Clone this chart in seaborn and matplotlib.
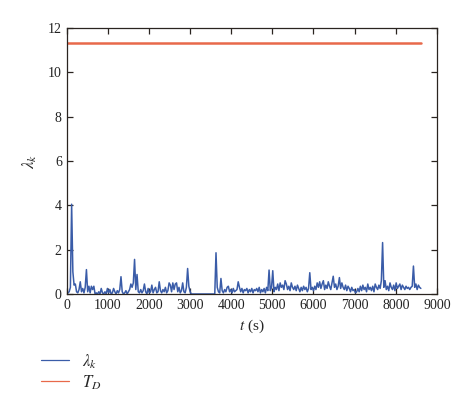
import numpy as np
import pandas as pd
import matplotlib
matplotlib.use("Agg")
import matplotlib.pyplot as plt
from matplotlib.lines import Line2D
import seaborn as sns

# === Data (one sample every 30 s) ===
sample_period = 30
lam_k = [
    # 0 - 690 s
    0.0, 0.05, 0.1, 0.3, 4.05, 1.0, 0.4, 0.45, 0.1, 0.05,
    0.2, 0.55, 0.1, 0.25, 0.05, 0.3, 1.1, 0.1, 0.35, 0.05,
    0.35, 0.2, 0.35, 0.0,
    # 720 - 1500 s
    0.05, 0.0, 0.1, 0.0, 0.25, 0.05, 0.0, 0.1, 0.0, 0.25,
    0.05, 0.2, 0.0, 0.05, 0.25, 0.1, 0.0, 0.15, 0.05, 0.2,
    0.78, 0.1, 0.0, 0.05, 0.15, 0.0, 0.1,
    # 1530 - 2100 s
    0.2, 0.45, 0.3, 0.5, 1.56, 0.2, 0.88, 0.1, 0.05, 0.2,
    0.05, 0.15, 0.45, 0.1, 0.0, 0.25, 0.05, 0.1, 0.4, 0.05,
    # 2130 - 3000 s
    0.2, 0.3, 0.05, 0.1, 0.55, 0.15, 0.05, 0.2, 0.1, 0.3,
    0.05, 0.15, 0.5, 0.4, 0.1, 0.5, 0.2, 0.45, 0.5, 0.1,
    0.3, 0.05, 0.15, 0.5, 0.1, 0.05, 0.3, 1.15, 0.35, 0.1,
    # 3030 - 3600 s (quiet)
    0.0, 0.0, 0.0, 0.0, 0.0, 0.0, 0.0, 0.0, 0.0, 0.0,
    0.0, 0.0, 0.0, 0.0, 0.0, 0.0, 0.0, 0.0, 0.0, 0.0,
    # 3630 - 4200 s
    1.86, 0.3, 0.1, 0.05, 0.7, 0.15, 0.05, 0.2, 0.1, 0.3,
    0.35, 0.1, 0.2, 0.05, 0.25, 0.1, 0.15, 0.2, 0.55, 0.3,
    # 4230 - 4890 s
    0.1, 0.25, 0.05, 0.2, 0.15, 0.25, 0.05, 0.2, 0.1, 0.25,
    0.05, 0.2, 0.15, 0.25, 0.1, 0.3, 0.05, 0.2, 0.1, 0.25,
    0.05, 0.3, 0.15,
    # 4920 - 5970 s
    1.08, 0.15, 0.3, 1.05, 0.1, 0.3, 0.2, 0.45, 0.15, 0.5,
    0.3, 0.4, 0.2, 0.6, 0.45, 0.2, 0.35, 0.15, 0.5, 0.3,
    0.2, 0.35, 0.15, 0.4, 0.25, 0.1, 0.3, 0.15, 0.35, 0.2,
    0.3, 0.1, 0.25, 0.96, 0.2, 0.3,
    # 6000 - 6900 s
    0.15, 0.35, 0.2, 0.5, 0.3, 0.55, 0.25, 0.45, 0.6, 0.2,
    0.4, 0.25, 0.55, 0.35, 0.2, 0.5, 0.8, 0.3, 0.45, 0.2,
    0.35, 0.74, 0.25, 0.5, 0.3, 0.2, 0.4, 0.15, 0.35, 0.25,
    0.1,
    # 6930 - 7650 s
    0.3, 0.15, 0.2, 0.05, 0.1, 0.25, 0.1, 0.35, 0.15, 0.4,
    0.2, 0.3, 0.1, 0.45, 0.2, 0.3, 0.15, 0.35, 0.1, 0.45,
    0.3, 0.2, 0.4, 0.25, 0.6,
    # 7680 - 8610 s
    2.32, 0.3, 0.6, 0.2, 0.35, 0.15, 0.5, 0.3, 0.2, 0.4,
    0.15, 0.5, 0.25, 0.35, 0.45, 0.2, 0.4, 0.3, 0.2, 0.35,
    0.25, 0.3, 0.2, 0.3, 0.35, 1.26, 0.3, 0.45, 0.2, 0.4,
    0.3, 0.25,
]
threshold_TD = 11.33
legend_labels = [r"$\lambda_k$", r"$T_D$"]

t = np.arange(len(lam_k)) * sample_period
df = pd.DataFrame({"t": t, "lam": lam_k, "TD": threshold_TD})

# === Style ===
sns.set_style("ticks")
plt.rcParams.update({
    "font.family": ["Liberation Serif", "DejaVu Serif"],
    "mathtext.fontset": "stix",
    "xtick.direction": "in",
    "ytick.direction": "in",
    "xtick.top": True,
    "ytick.right": True,
    "axes.linewidth": 0.9,
    "axes.edgecolor": "#2a2420",
})

blue = "#3a5ca8"
red = "#e8694a"

fig = plt.figure(figsize=(4.74, 4.09), dpi=100)
ax = fig.add_axes([0.1407, 0.2812, 0.781, 0.6503])

sns.lineplot(data=df, x="t", y="lam", ax=ax, color=blue, linewidth=1.1,
             legend=False)
sns.lineplot(data=df, x="t", y="TD", ax=ax, color=red, linewidth=1.8,
             legend=False)

ax.set_xlim(0, 9000)
ax.set_ylim(0, 12)
ax.set_xticks(range(0, 9001, 1000))
ax.set_yticks(range(0, 13, 2))
ax.tick_params(labelsize=10, length=4, width=0.9, colors="#2a2420",
               labelcolor="#222222")

ax.set_xlabel(r"$t$ (s)", fontsize=11, labelpad=4)
ax.set_ylabel(r"$\lambda_k$", fontsize=12, labelpad=6)

# thin legend handles like the reference
handles = [Line2D([], [], color=blue, linewidth=0.9),
           Line2D([], [], color=red, linewidth=0.9)]
fig.legend(handles, legend_labels, loc="upper left", bbox_to_anchor=(0.072, 0.155),
           frameon=False, fontsize=12, handlelength=1.7, handletextpad=0.8,
           labelspacing=0.15, borderaxespad=0)

plt.savefig("out.png", dpi=100)
plt.close()
